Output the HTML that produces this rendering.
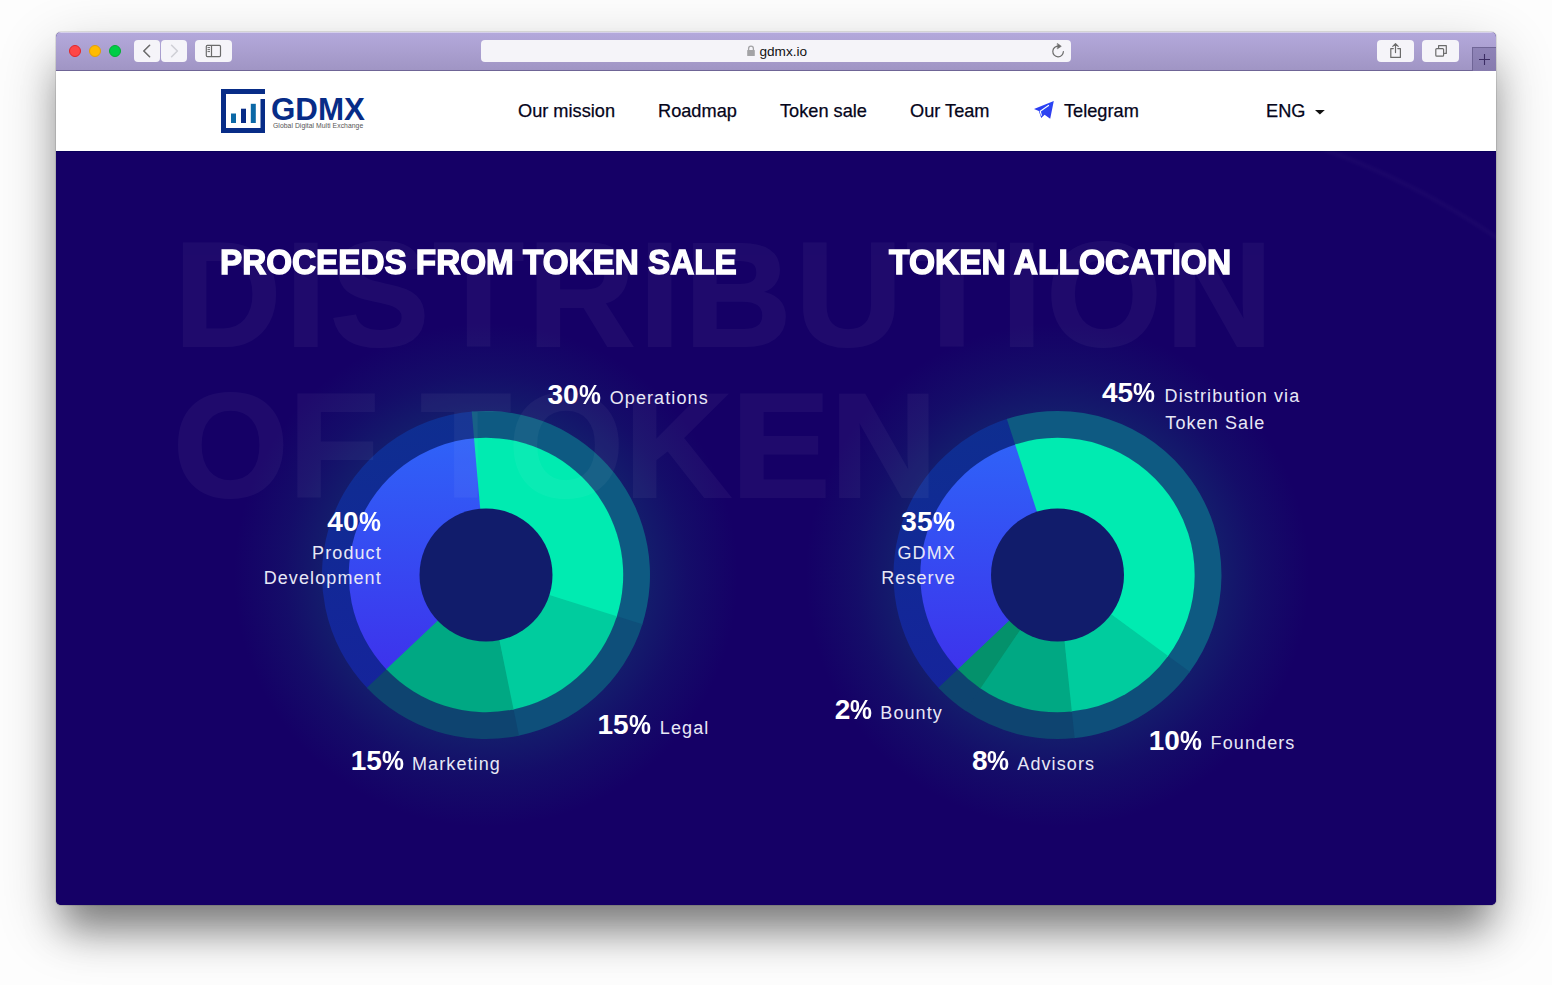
<!DOCTYPE html>
<html><head><meta charset="utf-8"><title>GDMX</title>
<style>
*{box-sizing:border-box;margin:0;padding:0}
html,body{width:1552px;height:985px;overflow:hidden;background:#fdfdfd;font-family:"Liberation Sans",Arial,sans-serif}
.win{position:absolute;left:56px;top:32px;width:1440px;height:873px;border-radius:5px;overflow:hidden;box-shadow:0 0 0 1px rgba(0,0,0,.1),0 20px 60px rgba(0,0,0,.24),0 32px 36px -8px rgba(0,0,0,.38);background:#150065}
.tb{position:absolute;left:0;top:0;width:1440px;height:39px;background:linear-gradient(#b4a9dc,#a095c4);border-bottom:1px solid #6f6596;box-shadow:inset 0 1px 0 rgba(255,255,255,.45)}
.tl{position:absolute;top:13px;width:12px;height:12px;border-radius:50%}
.btn{position:absolute;top:8px;height:22px;background:#f5f4f9;border-radius:4px}
.url{position:absolute;left:425px;top:8px;width:590px;height:22px;background:#f5f4f9;border-radius:4px}
.urlt{position:absolute;left:703.5px;top:12px;font-size:13.6px;line-height:16px;color:#111}
.ntab{position:absolute;left:1416px;top:15px;width:30px;height:24px;background:linear-gradient(#8e83b7,#877cae);border-left:1px solid #6f6596;border-top:1px solid #6f6596}
.tbi{position:absolute;left:0;top:0}
.hdr{position:absolute;left:0;top:39px;width:1440px;height:80px;background:#fff}
.nav{position:absolute;top:29.8px;font-size:18.2px;color:#05051a;-webkit-text-stroke:.25px #05051a;white-space:nowrap;line-height:20px}
.hsv{position:absolute;left:0;top:0}
.lg1{position:absolute;left:215px;top:24px;font-weight:bold;font-size:31.3px;line-height:30px;color:#072c87;letter-spacing:0}
.lg2{position:absolute;left:217px;top:51px;font-size:6.8px;line-height:8px;color:#555;letter-spacing:.05px;white-space:nowrap}
.main{position:absolute;left:0;top:119px;width:1440px;height:754px;background:#150066;box-shadow:inset 0 1px 0 #08005a}
.pg{position:absolute;left:-56px;top:-151px;width:1552px;height:985px}
.dn{position:absolute;left:0;top:0}
.wm{position:absolute;font-weight:bold;font-size:148.5px;line-height:150px;color:#fff;-webkit-text-stroke:2px #fff;opacity:.04;white-space:nowrap}
.h2{position:absolute;font-weight:bold;font-size:35px;line-height:44px;color:#fff;white-space:nowrap;transform-origin:0 0;-webkit-text-stroke:1.4px #fff}
.p{position:absolute;font-weight:bold;font-size:28px;line-height:28px;color:#fff;letter-spacing:0;white-space:nowrap}
.pc{display:inline-block;transform:scaleX(.88);transform-origin:0 0;margin-right:-3px}
.t{position:absolute;font-size:18px;line-height:18px;color:#e8e8f6;letter-spacing:1.1px;white-space:nowrap}
</style></head><body>
<div class="win">
 <div class="tb">
  <div class="tl" style="left:13px;background:#fe4647;border:1px solid #e2262a"></div>
  <div class="tl" style="left:33px;background:#ffbb00;border:1px solid #e3a008"></div>
  <div class="tl" style="left:53px;background:#00cd46;border:1px solid #04ad34"></div>
  <div class="btn" style="left:78px;width:26px"></div>
  <div class="btn" style="left:105px;width:26px"></div>
  <div class="btn" style="left:139px;width:37px"></div>
  <div class="url"></div>
  <div class="btn" style="left:1321px;width:37px"></div>
  <div class="btn" style="left:1366px;width:37px"></div>
  <div class="ntab"></div>
  <svg class="tbi" width="1440" height="39" viewBox="56 32 1440 39" fill="none" stroke-linecap="round" stroke-linejoin="round">
   <path d="M149.6 45.3L143.8 51L149.6 56.7" stroke="#6b6b6b" stroke-width="1.6"/>
   <path d="M171.6 45.3L177.4 51L171.6 56.7" stroke="#cfcfd6" stroke-width="1.6"/>
   <rect x="206.3" y="45.4" width="14.2" height="11.2" rx="1" stroke="#6b6b6b" stroke-width="1.2"/>
   <path d="M211.5 45.5V56.5" stroke="#6b6b6b" stroke-width="1.2"/>
   <path d="M207.9 47.6H209.6M207.9 49.6H209.6M207.9 51.6H209.6" stroke="#6b6b6b" stroke-width="1"/>
   <rect x="747.2" y="50" width="7.6" height="6" rx=".6" fill="#a3a3a6" stroke="none"/>
   <path d="M748.6 50.4V48.6A2.4 2.4 0 0 1 753.4 48.6V50.4" stroke="#a3a3a6" stroke-width="1.3"/>
   <path d="M1063.4 51.6A5.3 5.3 0 1 1 1058.4 46.2" stroke="#6b6b6b" stroke-width="1.2"/>
   <path d="M1057.6 43.6L1061.3 46.3L1057.6 48.7Z" fill="#6b6b6b" stroke="#6b6b6b" stroke-width=".6"/>
   <path d="M1393.3 48.6H1390.8V57.4H1400.4V48.6H1397.8" stroke="#6b6b6b" stroke-width="1.2"/>
   <path d="M1395.5 43.6V52.6M1392.8 46.3L1395.5 43.6L1398.2 46.3" stroke="#6b6b6b" stroke-width="1.2"/>
   <rect x="1435.8" y="48.6" width="7.8" height="7.6" rx="1" stroke="#6b6b6b" stroke-width="1.2"/>
   <path d="M1438.6 47.5V45.7H1446.3V53.4H1444.6" stroke="#6b6b6b" stroke-width="1.2"/>
   <path d="M1479 59.5H1490M1484.5 54V65" stroke="#3b2c63" stroke-width="1.1" stroke-linecap="butt"/>
  </svg>
  <div class="urlt">gdmx.io</div>
 </div>
 <div class="hdr">
  <svg class="hsv" width="1440" height="80" viewBox="56 71 1440 80">
   <path d="M221 89H265V94H226V128H260.5V99H265V133H221Z" fill="#072c87"/>
   <rect x="231" y="113.5" width="5" height="9.5" fill="#0b68a6"/>
   <rect x="241" y="108.7" width="5" height="14.3" fill="#072c87"/>
   <rect x="250.8" y="103.8" width="5" height="19.2" fill="#0b68a6"/>
   <defs><linearGradient id="tg" x1="0" y1="0" x2="1" y2="1"><stop offset="0" stop-color="#2a2cf0"/><stop offset=".5" stop-color="#2b47f4"/><stop offset="1" stop-color="#3236ea"/></linearGradient></defs>
   <path d="M1053.8 101L1034 108.9L1038.8 110.9L1041.2 118L1044.6 114.8L1050.2 118.7Z" fill="url(#tg)"/>
   <path d="M1048.9 105.3L1040.2 111.2L1041.5 115.6" fill="none" stroke="#fff" stroke-width="1.1"/>
   <path d="M1315 110H1324.8L1319.9 114.6Z" fill="#111"/>
  </svg>
  <div class="lg1">GDMX</div>
  <div class="lg2">Global Digital Multi Exchange</div>
  <div class="nav" style="left:462px">Our mission</div>
  <div class="nav" style="left:602px">Roadmap</div>
  <div class="nav" style="left:724px">Token sale</div>
  <div class="nav" style="left:854px">Our Team</div>
  <div class="nav" style="left:1008px">Telegram</div>
  <div class="nav" style="left:1210px">ENG</div>
 </div>
 <div class="main"><div class="pg">
<svg class="dn" width="1552" height="985" viewBox="0 0 1552 985">
<defs>
<radialGradient id="glow" cx="50%" cy="50%" r="50%">
<stop offset="0" stop-color="#132e70" stop-opacity="1"/>
<stop offset=".62" stop-color="#132e70" stop-opacity=".66"/>
<stop offset=".8" stop-color="#132e70" stop-opacity=".28"/>
<stop offset="1" stop-color="#132e70" stop-opacity="0"/>
</radialGradient>
<linearGradient id="gb" x1="0" y1="0" x2="0" y2="1"><stop offset="0" stop-color="#2f62f8"/><stop offset="1" stop-color="#3d33ec"/></linearGradient>
<filter id="bl" x="-10%" y="-10%" width="120%" height="120%"><feGaussianBlur stdDeviation="1.2"/></filter>
<linearGradient id="gr" x1="0" y1="0" x2="0" y2="1"><stop offset="0" stop-color="#0e2e90"/><stop offset="1" stop-color="#15249b"/></linearGradient>
<linearGradient id="gb2" x1="0" y1="0" x2="0" y2="1"><stop offset="0" stop-color="#2f62f8"/><stop offset="1" stop-color="#3d33ec"/></linearGradient>
</defs>
<path d="M1310 144.3A789 789 0 0 1 1500 239.7" fill="none" stroke="rgba(255,255,255,.018)" stroke-width="5" filter="url(#bl)"/>
<circle cx="486" cy="575" r="252" fill="url(#glow)"/>
<path d="M367.83 688.72A164 164 0 0 1 473.13 411.51L475.27 438.72A136.7 136.7 0 0 0 387.50 669.79Z" fill="url(#gr)"/>
<path d="M471.71 411.62A164 164 0 0 1 641.97 625.68L616.01 617.24A136.7 136.7 0 0 0 474.09 438.82Z" fill="#0e5a82"/>
<path d="M642.41 624.32A164 164 0 0 1 517.57 735.93L512.32 709.14A136.7 136.7 0 0 0 616.37 616.11Z" fill="#0e4f7a"/>
<path d="M518.98 735.65A164 164 0 0 1 366.84 687.68L386.68 668.92A136.7 136.7 0 0 0 513.49 708.91Z" fill="#0e4470"/>
<path d="M486 575L387.14 670.13A137.2 137.2 0 0 1 475.24 438.22Z" fill="url(#gb)"/>
<path d="M486 575L474.04 438.32A137.2 137.2 0 0 1 616.48 617.40Z" fill="#00ebb1"/>
<path d="M486 575L616.85 616.26A137.2 137.2 0 0 1 512.41 709.63Z" fill="#00cc9e"/>
<path d="M486 575L513.59 709.40A137.2 137.2 0 0 1 386.31 669.27Z" fill="#00a883"/>
<circle cx="486" cy="575" r="66.5" fill="#111c6b"/>
<circle cx="1057.5" cy="575" r="252" fill="url(#glow)"/>
<path d="M939.33 688.72A164 164 0 0 1 1008.18 418.59L1016.39 444.63A136.7 136.7 0 0 0 959.00 669.79Z" fill="url(#gr)"/>
<path d="M1006.82 419.03A164 164 0 0 1 1188.99 673.01L1167.10 656.70A136.7 136.7 0 0 0 1015.26 444.99Z" fill="#0e5a82"/>
<path d="M1189.84 671.86A164 164 0 0 1 1073.22 738.24L1070.60 711.07A136.7 136.7 0 0 0 1167.81 655.74Z" fill="#0e4f7a"/>
<path d="M1074.64 738.10A164 164 0 0 1 964.14 709.83L979.68 687.39A136.7 136.7 0 0 0 1071.79 710.95Z" fill="#0e4470"/>
<path d="M965.32 710.64A164 164 0 0 1 938.34 687.68L958.18 668.92A136.7 136.7 0 0 0 980.66 688.06Z" fill="#0e4470"/>
<path d="M1057.5 575L958.64 670.13A137.2 137.2 0 0 1 1016.24 444.15Z" fill="url(#gb2)"/>
<path d="M1057.5 575L1015.10 444.52A137.2 137.2 0 0 1 1167.50 656.99Z" fill="#00ebb1"/>
<path d="M1057.5 575L1168.21 656.03A137.2 137.2 0 0 1 1070.65 711.57Z" fill="#00cc9e"/>
<path d="M1057.5 575L1071.84 711.45A137.2 137.2 0 0 1 979.39 687.80Z" fill="#00a883"/>
<path d="M1057.5 575L980.38 688.48A137.2 137.2 0 0 1 957.81 669.27Z" fill="#04916b"/>
<circle cx="1057.5" cy="575" r="66.5" fill="#111c6b"/>
</svg>
<div class="wm" style="left:174px;top:219.5px;letter-spacing:3.9px">DISTRIBUTION</div>
<div class="wm" style="left:173px;top:370.5px;letter-spacing:0">OF TOKEN</div>
<div class="h2" style="left:219.5px;top:240px;transform:scaleX(.950)">PROCEEDS FROM TOKEN SALE</div>
<div class="h2" style="left:889px;top:240px;transform:scaleX(.958)">TOKEN ALLOCATION</div>
<!--LB-->
<div class="p" style="left:547.4px;top:381.0px">30<span class="pc">%</span></div>
<div class="t" style="left:609.7px;top:388.8px">Operations</div>
<div class="p" style="right:1171.6px;top:508.1px">40<span class="pc">%</span></div>
<div class="t" style="right:1170.2px;top:544.1px">Product</div>
<div class="t" style="right:1170.2px;top:568.7px">Development</div>
<div class="p" style="left:597.5px;top:710.8px">15<span class="pc">%</span></div>
<div class="t" style="left:659.8px;top:718.6px">Legal</div>
<div class="p" style="left:350.7px;top:746.8px">15<span class="pc">%</span></div>
<div class="t" style="left:412.0px;top:754.6px">Marketing</div>
<div class="p" style="left:1102.0px;top:378.8px">45<span class="pc">%</span></div>
<div class="t" style="left:1164.6px;top:386.6px">Distribution via</div>
<div class="t" style="left:1165.3px;top:414.3px">Token Sale</div>
<div class="p" style="right:597.6px;top:508.1px">35<span class="pc">%</span></div>
<div class="t" style="right:596.1px;top:544.1px">GDMX</div>
<div class="t" style="right:596.1px;top:568.7px">Reserve</div>
<div class="p" style="left:834.8px;top:695.9px">2<span class="pc">%</span></div>
<div class="t" style="left:880.3px;top:704.1px">Bounty</div>
<div class="p" style="left:971.9px;top:746.7px">8<span class="pc">%</span></div>
<div class="t" style="left:1017.3px;top:754.5px">Advisors</div>
<div class="p" style="left:1148.7px;top:726.6px">10<span class="pc">%</span></div>
<div class="t" style="left:1210.6px;top:734.4px">Founders</div>
<!--/LB-->
</div></div>
</div>
</body></html>
